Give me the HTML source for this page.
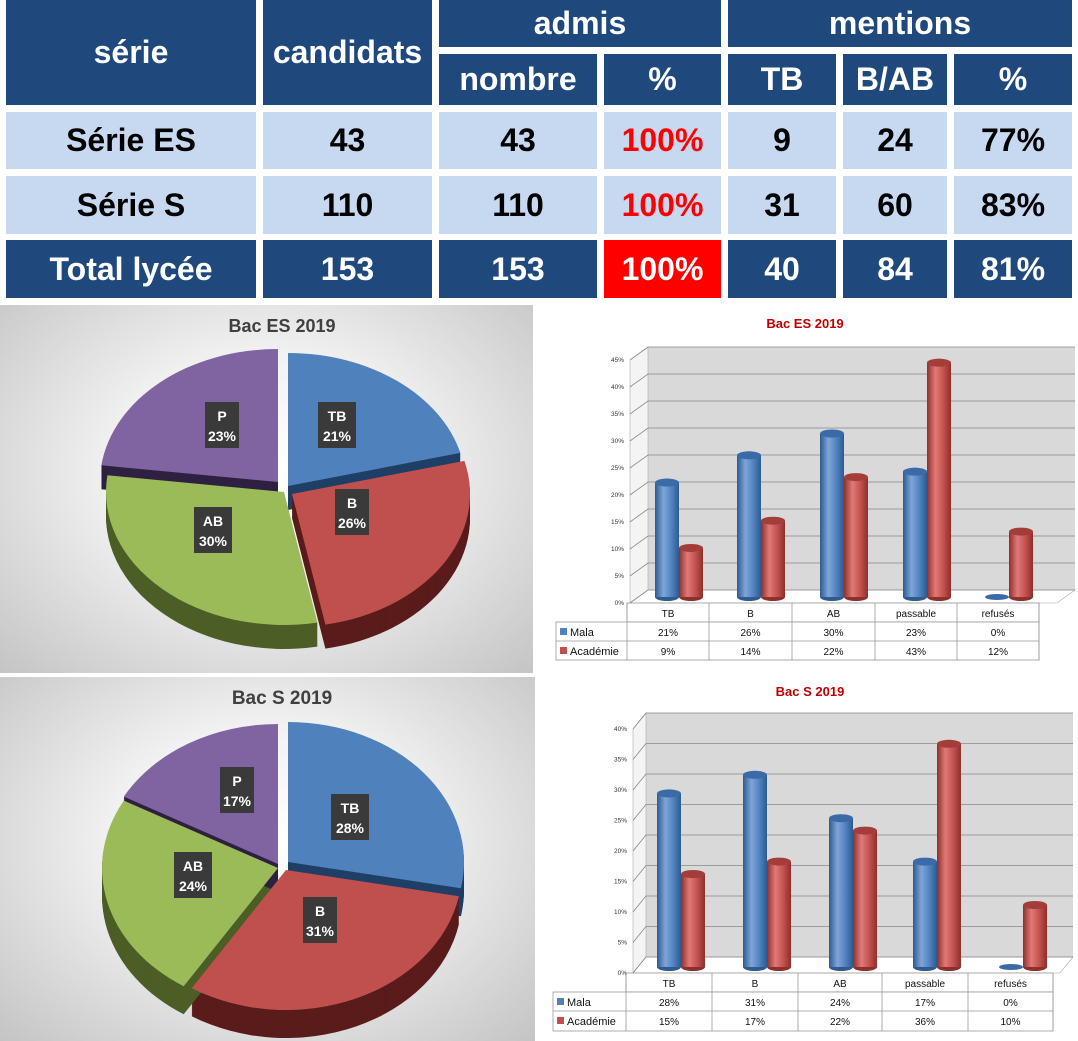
<!DOCTYPE html>
<html><head><meta charset="utf-8">
<style>
body{margin:0;width:1078px;height:1041px;position:relative;background:#fff;overflow:hidden;font-family:"Liberation Sans",sans-serif}
.c{position:absolute;display:flex;align-items:center;justify-content:center;font-weight:bold;font-size:32px;color:#000}
.h{background:#1f497d;color:#fff}
.l{background:#c6d9f1}
.r{color:#f00}
.pp{position:absolute;background:radial-gradient(ellipse at 50% 45%,#fff 0%,#f2f2f2 40%,#c4c4c4 100%)}
svg{position:absolute;left:0;top:0}
</style></head><body>
<div class="c h" style="left:6px;top:0;width:250px;height:105px">série</div>
<div class="c h" style="left:263px;top:0;width:169px;height:105px">candidats</div>
<div class="c h" style="left:439px;top:0;width:282px;height:47px">admis</div>
<div class="c h" style="left:728px;top:0;width:344px;height:47px">mentions</div>
<div class="c h" style="left:439px;top:54px;width:158px;height:51px">nombre</div>
<div class="c h" style="left:604px;top:54px;width:117px;height:51px">%</div>
<div class="c h" style="left:728px;top:54px;width:108px;height:51px">TB</div>
<div class="c h" style="left:843px;top:54px;width:104px;height:51px">B/AB</div>
<div class="c h" style="left:954px;top:54px;width:118px;height:51px">%</div>

<div class="c l" style="left:6px;top:112px;width:250px;height:57px">Série ES</div>
<div class="c l" style="left:263px;top:112px;width:169px;height:57px">43</div>
<div class="c l" style="left:439px;top:112px;width:158px;height:57px">43</div>
<div class="c l r" style="left:604px;top:112px;width:117px;height:57px">100%</div>
<div class="c l" style="left:728px;top:112px;width:108px;height:57px">9</div>
<div class="c l" style="left:843px;top:112px;width:104px;height:57px">24</div>
<div class="c l" style="left:954px;top:112px;width:118px;height:57px">77%</div>

<div class="c l" style="left:6px;top:176px;width:250px;height:58px">Série S</div>
<div class="c l" style="left:263px;top:176px;width:169px;height:58px">110</div>
<div class="c l" style="left:439px;top:176px;width:158px;height:58px">110</div>
<div class="c l r" style="left:604px;top:176px;width:117px;height:58px">100%</div>
<div class="c l" style="left:728px;top:176px;width:108px;height:58px">31</div>
<div class="c l" style="left:843px;top:176px;width:104px;height:58px">60</div>
<div class="c l" style="left:954px;top:176px;width:118px;height:58px">83%</div>

<div class="c h" style="left:6px;top:240px;width:250px;height:58px">Total lycée</div>
<div class="c h" style="left:263px;top:240px;width:169px;height:58px">153</div>
<div class="c h" style="left:439px;top:240px;width:158px;height:58px">153</div>
<div class="c" style="left:604px;top:240px;width:117px;height:58px;background:#f00;color:#fff">100%</div>
<div class="c h" style="left:728px;top:240px;width:108px;height:58px">40</div>
<div class="c h" style="left:843px;top:240px;width:104px;height:58px">84</div>
<div class="c h" style="left:954px;top:240px;width:118px;height:58px">81%</div>

<div class="pp" style="left:0;top:305px;width:533px;height:368px"></div>
<div class="pp" style="left:0;top:677px;width:535px;height:364px"></div>

<svg id="s" width="1078" height="1041" xmlns="http://www.w3.org/2000/svg" font-family="Liberation Sans, sans-serif">
<text x="282" y="332" text-anchor="middle" font-size="18" font-weight="bold" fill="#404040">Bac ES 2019</text>
<text x="282" y="704" text-anchor="middle" font-size="19" font-weight="bold" fill="#404040">Bac S 2019</text>
<text x="805" y="328" text-anchor="middle" font-size="13" font-weight="bold" fill="#c00000">Bac ES 2019</text>
<text x="810" y="696" text-anchor="middle" font-size="13" font-weight="bold" fill="#c00000">Bac S 2019</text>
</svg>
<script>
var S=document.getElementById('s'),NS='http://www.w3.org/2000/svg';
function el(t,a,txt){var e=document.createElementNS(NS,t);for(var k in a)e.setAttribute(k,a[k]);if(txt!==undefined)e.textContent=txt;S.appendChild(e);return e;}
function pie(cx,cy,rx,ry,depth,sl){
 var a=0,paths=[];
 sl.forEach(function(s){var a1=a*2*Math.PI,a2=(a+s.v)*2*Math.PI;a+=s.v;
  function p(t){return (cx+rx*Math.sin(t)).toFixed(1)+','+(cy-ry*Math.cos(t)).toFixed(1);}
  var d='M'+cx+','+cy+' L'+p(a1)+' A'+rx+' '+ry+' 0 '+((a2-a1)>Math.PI?1:0)+' 1 '+p(a2)+' Z';
  paths.push([d,s]);});
 paths.forEach(function(q){for(var k=depth;k>0;k--)el('path',{d:q[0],fill:q[1].dk,transform:'translate('+q[1].dx+','+(q[1].dy+k)+')'});});
 paths.forEach(function(q){el('path',{d:q[0],fill:q[1].c,transform:'translate('+q[1].dx+','+q[1].dy+')'});});
 sl.forEach(function(s){var w=s.l[0].length>1||s.l[1].length>3?38:34;
  el('rect',{x:s.lx-w/2,y:s.ly-23,width:w,height:46,fill:'#3a3a3a'});
  el('text',{x:s.lx,y:s.ly-4,'text-anchor':'middle','font-size':14,'font-weight':'bold',fill:'#fff'},s.l[0]);
  el('text',{x:s.lx,y:s.ly+16,'text-anchor':'middle','font-size':14,'font-weight':'bold',fill:'#fff'},s.l[1]);});
}
pie(282,490,178,133,24,[
 {v:.21,c:'#4f81bd',dk:'#1f3f66',dx:6,dy:-4,l:['TB','21%'],lx:337,ly:425},
 {v:.26,c:'#c0504d',dk:'#5a1c1b',dx:10,dy:4,l:['B','26%'],lx:352,ly:512},
 {v:.30,c:'#9bbb59',dk:'#4c5e26',dx:2,dy:2,l:['AB','30%'],lx:213,ly:530},
 {v:.23,c:'#8064a2',dk:'#2e2040',dx:-4,dy:-8,l:['P','23%'],lx:222,ly:425}]);
pie(284,868,176,140,28,[
 {v:.28,c:'#4f81bd',dk:'#1f3f66',dx:4,dy:-6,l:['TB','28%'],lx:350,ly:817},
 {v:.31,c:'#c0504d',dk:'#5a1c1b',dx:2,dy:2,l:['B','31%'],lx:320,ly:920},
 {v:.24,c:'#9bbb59',dk:'#4c5e26',dx:-6,dy:0,l:['AB','24%'],lx:193,ly:875},
 {v:.17,c:'#8064a2',dk:'#2e2040',dx:-6,dy:-4,l:['P','17%'],lx:237,ly:790}]);

function bar(o){
 var ax=o.ax,y0=o.y0,st=o.step,ox=o.ox,oy=o.oy,R=o.R,n=o.max/5,top=y0-n*st;
 el('polygon',{points:(ax+ox)+','+(top-oy)+' '+R+','+(top-oy)+' '+R+','+(y0-oy)+' '+(ax+ox)+','+(y0-oy),fill:'#d9d9d9'});
 el('polygon',{points:ax+','+top+' '+(ax+ox)+','+(top-oy)+' '+(ax+ox)+','+(y0-oy)+' '+ax+','+y0,fill:'#f4f4f4',stroke:'#aaa','stroke-width':.6});
 el('polygon',{points:ax+','+y0+' '+(ax+ox)+','+(y0-oy)+' '+R+','+(y0-oy)+' '+(R-ox)+','+y0,fill:'#fff',stroke:'#aaa','stroke-width':.6});
 for(var i=0;i<=n;i++){var y=y0-i*st;
  el('polyline',{points:ax+','+y+' '+(ax+ox)+','+(y-oy)+' '+R+','+(y-oy),fill:'none',stroke:'#888','stroke-width':.8});
  el('text',{x:ax-6,y:y+2,'text-anchor':'end','font-size':6.5,fill:'#333'},(i*5)+'%');}
 var gc=[['#4f81bd','#2c5a91','#7fa6d9','#3a6aa8'],['#c0504d','#8e2f2c','#e07a77','#a33d3a']];
 for(var g=0;g<5;g++){for(var s=0;s<2;s++){var v=o.d[s][g],x=o.tx[g]+o.bo+s*o.bw,w=o.bw,h=v*o.sc,yb=o.fb,yt=yb-h,c=gc[s];
  var id='g'+o.id+g+s;var lg=el('linearGradient',{id:id,x1:0,x2:1,y1:0,y2:0});
  [[0,c[1]],[.35,c[2]],[.7,c[0]],[1,c[1]]].forEach(function(p){var t=document.createElementNS(NS,'stop');t.setAttribute('offset',p[0]);t.setAttribute('stop-color',p[1]);lg.appendChild(t);});
  if(h>0){el('ellipse',{cx:x+w/2,cy:yb,rx:w/2,ry:4,fill:c[1]});
   el('rect',{x:x,y:yt,width:w,height:h,fill:'url(#'+id+')'});
   el('ellipse',{cx:x+w/2,cy:yt,rx:w/2,ry:4,fill:c[3]});}
  else el('ellipse',{cx:x+w/2,cy:yb,rx:w/2,ry:3,fill:c[3]});}}
 var L=o.lx,ty=o.ty,tx=o.tx;
 el('rect',{x:tx[0],y:ty[0],width:tx[5]-tx[0],height:ty[1]-ty[0],fill:'#fff',stroke:'#999','stroke-width':.8});
 el('rect',{x:L,y:ty[1],width:tx[5]-L,height:ty[3]-ty[1],fill:'#fff',stroke:'#999','stroke-width':.8});
 el('line',{x1:L,x2:tx[5],y1:ty[2],y2:ty[2],stroke:'#999','stroke-width':.8});
 for(var k=0;k<6;k++)el('line',{x1:tx[k],x2:tx[k],y1:ty[0],y2:ty[3],stroke:'#999','stroke-width':.8});
 var cats=['TB','B','AB','passable','refusés'];
 for(var k=0;k<5;k++){var cx=(tx[k]+tx[k+1])/2;
  el('text',{x:cx,y:ty[0]+14,'font-size':o.fs,fill:'#111','text-anchor':'middle'},cats[k]);
  el('text',{x:cx,y:ty[1]+14,'font-size':o.fs,fill:'#111','text-anchor':'middle'},o.d[0][k]+'%');
  el('text',{x:cx,y:ty[2]+14,'font-size':o.fs,fill:'#111','text-anchor':'middle'},o.d[1][k]+'%');}
 el('rect',{x:L+4,y:ty[1]+6,width:7,height:7,fill:'#4f81bd'});
 el('text',{x:L+14,y:ty[1]+14,'font-size':o.fs+1,fill:'#111'},'Mala');
 el('rect',{x:L+4,y:ty[2]+6,width:7,height:7,fill:'#c0504d'});
 el('text',{x:L+14,y:ty[2]+14,'font-size':o.fs+1,fill:'#111'},'Académie');
}
bar({id:'a',ax:630,y0:603,step:27,ox:18,oy:13,R:1075,max:45,fb:597,sc:5.45,bo:28,bw:24,
 tx:[627,709,792,875,957,1039],ty:[603,622,641,660],lx:556,fs:10,
 d:[[21,26,30,23,0],[9,14,22,43,12]]});
bar({id:'b',ax:633,y0:973,step:30.5,ox:13,oy:16,R:1073,max:40,fb:967,sc:6.2,bo:31,bw:24,
 tx:[626,712,798,882,968,1053],ty:[973,992,1011,1031],lx:553,fs:10,
 d:[[28,31,24,17,0],[15,17,22,36,10]]});
</script>
</body></html>
